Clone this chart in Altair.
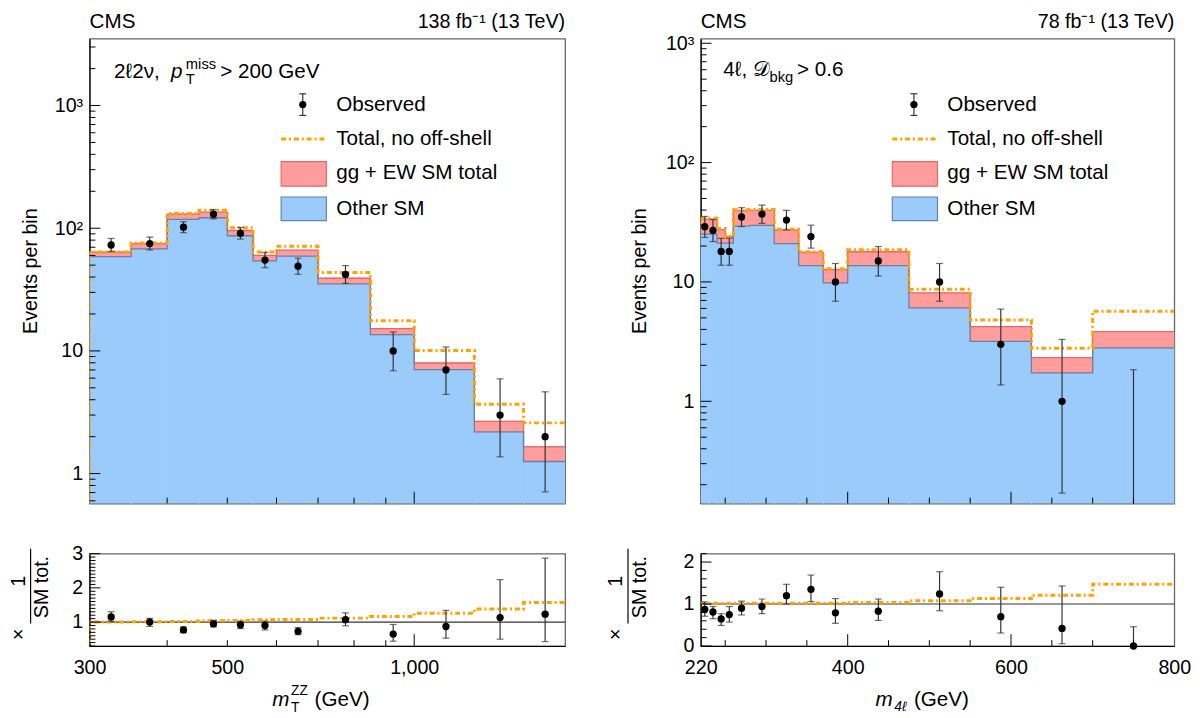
import altair as alt
import pandas as pd
import numpy as np

# ---------------- left panel: 2l2nu, pT miss > 200 GeV ----------------
L_EDGES = [300, 350, 400, 450, 500, 550, 600, 700, 850, 1000, 1250, 1500, 1750]
L_OTHER = [58.6, 67.9, 118.0, 121.7, 86.8, 54.1, 59.3, 35.2, 13.6, 7.05, 2.19, 1.255]
L_SMTOT = [63.9, 74.8, 130.0, 135.0, 95.8, 60.0, 66.2, 39.1, 15.2, 7.97, 2.67, 1.654]
L_NOOFF = [64.0, 75.9, 132.0, 140.0, 101.0, 63.9, 71.3, 43.6, 17.6, 10.06, 3.68, 2.59]
L_OBS = [73, 75, 102, 130, 91, 55, 49, 42, 10, 7, 3, 2]
L_OBS_LO = [64.6, 66.5, 92.0, 119.1, 81.5, 47.7, 42.1, 35.5, 6.89, 4.42, 1.37, 0.71]
L_OBS_HI = [82.5, 84.7, 113.1, 141.9, 101.5, 63.4, 57.0, 49.6, 14.27, 10.77, 5.92, 4.64]
L_RATIO = [1.15, 1.00, 0.77, 0.95, 0.92, 0.90, 0.73, 1.07, 0.65, 0.87, 1.13, 1.23]
L_RATIO_LO = [1.02, 0.87, 0.69, 0.86, 0.81, 0.77, 0.63, 0.89, 0.44, 0.53, 0.50, 0.43]
L_RATIO_HI = [1.30, 1.11, 0.86, 1.05, 1.03, 1.03, 0.84, 1.27, 0.93, 1.34, 2.24, 2.87]
L_RATIO_NOOFF = [1.00, 1.01, 1.015, 1.037, 1.05, 1.065, 1.077, 1.115, 1.16, 1.26, 1.38, 1.57]

# ---------------- right panel: 4l, Dbkg > 0.6 ----------------
R_EDGES = [220, 230, 240, 250, 260, 280, 310, 340, 370, 400, 475, 550, 625, 700, 800]
R_OTHER = [25.1, 25.1, 21.1, 21.1, 29.4, 29.8, 20.9, 13.7, 9.8, 13.7, 6.05, 3.18, 1.73, 2.80]
R_SMTOT = [33.6, 33.6, 27.4, 24.0, 39.5, 39.8, 27.2, 17.7, 12.7, 17.9, 8.09, 4.22, 2.32, 3.84]
R_NOOFF = [34.2, 34.2, 28.1, 24.2, 40.3, 40.5, 27.7, 17.9, 12.9, 18.6, 8.67, 4.79, 2.78, 5.69]
R_OBS = [29, 27, 18, 18, 35, 37, 33, 24, 10, 15, 10, 3, 1, 0]
R_OBS_LO = [23.6, 21.8, 13.8, 13.8, 29.1, 31.0, 27.3, 19.2, 6.89, 11.2, 6.89, 1.37, 0.17, 0.0]
R_OBS_HI = [35.4, 33.3, 23.2, 23.2, 41.9, 44.0, 39.8, 29.9, 14.27, 19.8, 14.27, 5.92, 3.30, 1.84]
R_RATIO = [0.87, 0.81, 0.645, 0.75, 0.90, 0.94, 1.20, 1.35, 0.79, 0.83, 1.24, 0.70, 0.42, 0.0]
R_RATIO_LO = [0.71, 0.65, 0.49, 0.57, 0.74, 0.77, 1.00, 1.06, 0.54, 0.61, 0.84, 0.31, 0.055, 0.0]
R_RATIO_HI = [1.05, 0.94, 0.77, 0.94, 1.07, 1.12, 1.47, 1.69, 1.13, 1.12, 1.77, 1.40, 1.43, 0.46]
R_RATIO_NOOFF = [1.02, 1.02, 1.02, 1.02, 1.02, 1.02, 1.02, 1.02, 1.02, 1.04, 1.08, 1.13, 1.21, 1.47]

# axis tick positions (data units)
L_XTICK_MAJ = [1000]
L_XTICK_MIN = [400, 500, 600, 700, 800, 900]
R_XTICK_MAJ = [400, 600]
R_XTICK_MIN = [250, 300, 350, 450, 500, 550, 650, 700, 750]

FONT = "Liberation Sans"
FS = 20
LFS = 21
BLUE_FILL = "#9ACBFA"
BLUE_LINE = "#6483A8"
RED_FILL = "#FF9C9C"
RED_LINE = "#E26A6A"
ORANGE = "#FFA200"
DASH = [5, 3, 2, 3]
ONE = pd.DataFrame({"k": [0]})

W_L, W_R, H_TOP, H_RAT = 484, 482, 473, 94


def txt(s, x, y, size=FS, align="left", baseline="alphabetic", angle=None, style="normal"):
    kw = dict(text=s, font=FONT, fontSize=size, align=align, baseline=baseline,
              color="black", fontStyle=style)
    if angle is not None:
        kw["angle"] = angle
    return alt.Chart(ONE).mark_text(**kw).encode(x=alt.value(x), y=alt.value(y))


def step_frame(edges, vals, lead=None):
    xs = list(edges)
    ys = list(vals) + [vals[-1]]
    if lead is not None:
        xs = [edges[0]] + xs
        ys = [lead] + ys
    return pd.DataFrame({"x": xs, "y": ys, "i": list(range(len(xs)))})


def tick_layers(X, Y, H, xmaj, xmin, ymaj, ymin):
    out = []
    for vals, ln in ((xmaj, 12), (xmin, 6)):
        if vals:
            out.append(alt.Chart(pd.DataFrame({"v": vals})).mark_rule(color="black", strokeWidth=1)
                       .encode(x=X("v"), y=alt.value(H), y2=alt.value(H - ln)))
    for vals, ln in ((ymaj, 11), (ymin, 6)):
        if vals:
            out.append(alt.Chart(pd.DataFrame({"v": vals})).mark_rule(color="black", strokeWidth=1)
                       .encode(y=Y("v"), x=alt.value(0), x2=alt.value(ln)))
    return out


def legend_layers():
    return [
        alt.Chart(ONE).mark_rule(color="#333", strokeWidth=1.2).encode(
            x=alt.value(217), y=alt.value(56), y2=alt.value(78)),
        alt.Chart(ONE).mark_rule(color="#333", strokeWidth=1.2).encode(
            x=alt.value(213.5), x2=alt.value(220.5), y=alt.value(56)),
        alt.Chart(ONE).mark_rule(color="#333", strokeWidth=1.2).encode(
            x=alt.value(213.5), x2=alt.value(220.5), y=alt.value(78)),
        alt.Chart(ONE).mark_point(filled=True, shape="circle", size=55, color="black", opacity=1).encode(
            x=alt.value(217), y=alt.value(67)),
        alt.Chart(ONE).mark_rule(color=ORANGE, strokeWidth=3, strokeDash=DASH).encode(
            x=alt.value(195), x2=alt.value(241), y=alt.value(102)),
        alt.Chart(ONE).mark_rect(fill=RED_FILL, stroke=RED_LINE, strokeWidth=1.2).encode(
            x=alt.value(195), x2=alt.value(241), y=alt.value(125), y2=alt.value(150)),
        alt.Chart(ONE).mark_rect(fill=BLUE_FILL, stroke=BLUE_LINE, strokeWidth=1.2).encode(
            x=alt.value(195), x2=alt.value(241), y=alt.value(161), y2=alt.value(185)),
        txt("Observed", 251, 67, size=LFS, baseline="middle"),
        txt("Total, no off-shell", 251, 102, size=LFS, baseline="middle"),
        txt("gg + EW SM total", 251, 137, size=LFS, baseline="middle"),
        txt("Other SM", 251, 173, size=LFS, baseline="middle"),
    ]


def top_panel(edges, other, smtot, nooff, obs, olo, ohi, xtype, xdom, ydom, W,
              xmaj, xmin, lead, extra):
    H = H_TOP
    xs = alt.Scale(type=xtype, domain=xdom, nice=False, zero=False)
    ys = alt.Scale(type="log", domain=ydom, nice=False)
    yax = alt.Axis(values=[1, 10, 100, 1000],
                   labelExpr="datum.value == 1 ? '1' : datum.value == 10 ? '10' : datum.value == 100 ? '10²' : '10³'",
                   ticks=False, domain=True, domainColor="black", domainWidth=1.2,
                   labelFont=FONT, labelFontSize=FS, labelColor="black", labelPadding=7,
                   grid=False, title=None)
    X = lambda f: alt.X(f, type="quantitative", scale=xs, axis=None)
    Y = lambda f: alt.Y(f, type="quantitative", scale=ys, axis=yax)

    e = np.array(edges, dtype=float)
    hist = pd.DataFrame({"lo": e[:-1], "hi": e[1:], "other": other, "smtot": smtot,
                         "floor": ydom[0] * 0.5})
    olo_a = np.array(olo, dtype=float)
    od = pd.DataFrame({"c": (e[:-1] + e[1:]) / 2, "obs": obs, "olo": olo_a,
                       "elo": np.where(olo_a > 0, olo_a, ydom[0] * 0.5), "ehi": ohi})

    layers = [
        alt.Chart(hist).mark_rect(fill=BLUE_FILL, stroke=BLUE_FILL, strokeWidth=1, clip=True).encode(
            x=X("lo"), x2="hi", y=Y("other"), y2="floor"),
        alt.Chart(hist).mark_rect(fill=RED_FILL, stroke=RED_FILL, strokeWidth=0.8, clip=True).encode(
            x=X("lo"), x2="hi", y=Y("smtot"), y2="other"),
        alt.Chart(step_frame(edges, smtot)).mark_line(
            interpolate="step-after", color=RED_LINE, strokeWidth=1.3, clip=True).encode(
            x=X("x"), y=Y("y"), order="i:Q"),
        alt.Chart(step_frame(edges, other)).mark_line(
            interpolate="step-after", color=BLUE_LINE, strokeWidth=1.3, clip=True).encode(
            x=X("x"), y=Y("y"), order="i:Q"),
        alt.Chart(step_frame(edges, nooff, lead)).mark_line(
            interpolate="step-after", color=ORANGE, strokeWidth=3, strokeDash=DASH, clip=True).encode(
            x=X("x"), y=Y("y"), order="i:Q"),
        alt.Chart(od).mark_rule(color="#333", strokeWidth=1.2, clip=True).encode(
            x=X("c"), y=Y("elo"), y2="ehi"),
        alt.Chart(od).mark_tick(orient="horizontal", size=7, thickness=1.2, color="#333").encode(
            x=X("c"), y=Y("ehi")),
        alt.Chart(od).transform_filter("datum.olo > 0").mark_tick(
            orient="horizontal", size=7, thickness=1.2, color="#333").encode(
            x=X("c"), y=Y("olo")),
        alt.Chart(od).transform_filter("datum.obs > 0").mark_point(
            filled=True, shape="circle", size=55, color="black", opacity=1).encode(
            x=X("c"), y=Y("obs")),
    ]
    ymaj = [v for v in [1, 10, 100, 1000] if ydom[0] <= v <= ydom[1]]
    ymin = [m * 10.0 ** p for p in range(-1, 4) for m in range(2, 10)
            if ydom[0] <= m * 10.0 ** p <= ydom[1]]
    layers += tick_layers(X, Y, H, xmaj, xmin, ymaj, ymin)
    layers += legend_layers()
    layers += extra
    return alt.layer(*layers).properties(width=W, height=H)


def ratio_panel(edges, r, rlo, rhi, rnooff, xtype, xdom, ydom, W, xlabels,
                xmaj, xmin, ymaj, ystep, lead, extra):
    H = H_RAT
    xs = alt.Scale(type=xtype, domain=xdom, nice=False, zero=False)
    ys = alt.Scale(type="linear", domain=ydom, nice=False, zero=False)
    xax = alt.Axis(values=xlabels, format=",d", ticks=False, domain=True, domainColor="black",
                   domainWidth=1.2, labelFont=FONT, labelFontSize=FS, labelColor="black",
                   labelPadding=12, labelFlush=False, grid=False, title=None)
    yax = alt.Axis(values=ymaj, format="d", ticks=False, domain=True, domainColor="black",
                   domainWidth=1.2, labelFont=FONT, labelFontSize=FS, labelColor="black",
                   labelPadding=7, grid=False, title=None)
    X = lambda f: alt.X(f, type="quantitative", scale=xs, axis=xax)
    Y = lambda f: alt.Y(f, type="quantitative", scale=ys, axis=yax)
    e = np.array(edges, dtype=float)
    rd = pd.DataFrame({"c": (e[:-1] + e[1:]) / 2, "r": r, "lo": rlo, "hi": rhi})
    layers = [
        alt.Chart(ONE).mark_rule(color="#333", strokeWidth=1.2).encode(y=alt.datum(1)),
        alt.Chart(step_frame(edges, rnooff, lead)).mark_line(
            interpolate="step-after", color=ORANGE, strokeWidth=3, strokeDash=DASH, clip=True).encode(
            x=X("x"), y=Y("y"), order="i:Q"),
        alt.Chart(rd).mark_rule(color="#333", strokeWidth=1.2).encode(
            x=X("c"), y=Y("lo"), y2="hi"),
        alt.Chart(rd).mark_tick(orient="horizontal", size=7, thickness=1.2, color="#333").encode(
            x=X("c"), y=Y("hi")),
        alt.Chart(rd).transform_filter("datum.lo > 0").mark_tick(
            orient="horizontal", size=7, thickness=1.2, color="#333").encode(
            x=X("c"), y=Y("lo")),
        alt.Chart(rd).mark_point(filled=True, shape="circle", size=55, color="black", opacity=1).encode(
            x=X("c"), y=Y("r")),
    ]
    n0 = int(round(ydom[0] / ystep))
    n1 = int(round(ydom[1] / ystep))
    ymin = [round(k * ystep, 3) for k in range(n0, n1 + 1) if abs(k * ystep - round(k * ystep)) > 1e-6]
    layers += tick_layers(X, Y, H, xmaj, xmin, ymaj, ymin)
    layers += extra
    return alt.layer(*layers).properties(width=W, height=H)


left_top = top_panel(
    L_EDGES, L_OTHER, L_SMTOT, L_NOOFF, L_OBS, L_OBS_LO, L_OBS_HI, "log", [300, 1750], [0.57, 3500], W_L,
    L_XTICK_MAJ, L_XTICK_MIN, 0.3,
    [txt("CMS", 0, -11, size=21),
     txt("138 fb⁻¹ (13 TeV)", W_L, -11, size=20, align="right"),
     txt("2ℓ2ν,", 25, 40, size=21),
     txt("p", 83, 40, size=21, style="italic"),
     txt("miss", 98, 31, size=15),
     txt("T", 98, 46, size=15),
     txt("> 200 GeV", 133, 40, size=21),
     txt("Events per bin", -59, H_TOP / 2, angle=270, align="center", baseline="middle")])

right_top = top_panel(
    R_EDGES, R_OTHER, R_SMTOT, R_NOOFF, R_OBS, R_OBS_LO, R_OBS_HI, "linear", [220, 800], [0.139, 1090], W_R,
    R_XTICK_MAJ, R_XTICK_MIN, None,
    [txt("CMS", 0, -11, size=21),
     txt("78 fb⁻¹ (13 TeV)", W_R, -11, size=20, align="right"),
     txt("4ℓ, 𝒟", 23, 38, size=21),
     txt("bkg", 70, 44, size=15),
     txt("> 0.6", 98, 38, size=21),
     txt("Events per bin", -62, H_TOP / 2, angle=270, align="center", baseline="middle")])


def ratio_title(dx):
    return [
        txt("1", dx, 28, angle=270, align="center", baseline="middle"),
        alt.Chart(ONE).mark_rule(color="black", strokeWidth=1.2).encode(
            x=alt.value(dx + 12), y=alt.value(-5), y2=alt.value(71)),
        txt("SM tot.", dx + 24, 34, angle=270, align="center", baseline="middle"),
        txt("×", dx, 82, angle=270, align="center", baseline="middle"),
    ]


left_ratio = ratio_panel(
    L_EDGES, L_RATIO, L_RATIO_LO, L_RATIO_HI, L_RATIO_NOOFF, "log", [300, 1750], [0.3, 3.0], W_L,
    [300, 500, 1000], L_XTICK_MAJ, L_XTICK_MIN, [1, 2, 3], 0.1, 0.0,
    ratio_title(-72) + [
        txt("m", 186, 155, size=21, style="italic"),
        txt("ZZ", 205, 144, size=14),
        txt("T", 205, 161, size=14),
        txt("(GeV)", 229, 155, size=21)])

right_ratio = ratio_panel(
    R_EDGES, R_RATIO, R_RATIO_LO, R_RATIO_HI, R_RATIO_NOOFF, "linear", [220, 800], [0.0, 2.2], W_R,
    [220, 400, 600, 800], R_XTICK_MAJ, R_XTICK_MIN, [0, 1, 2], 0.2, None,
    ratio_title(-86) + [
        txt("m", 178, 155, size=21, style="italic"),
        txt("4ℓ", 197, 160, size=14, style="italic"),
        txt("(GeV)", 217, 155, size=21)])

chart = (alt.concat(left_top, right_top, left_ratio, right_ratio, columns=2,
                    spacing={"row": 51, "column": 138}, bounds="flush")
         .properties(padding={"left": 0, "top": -4, "right": 0, "bottom": 0})
         .configure(font=FONT)
         .configure_view(stroke="#666", strokeWidth=1.3))

chart.save("out.html", embed_options={"renderer": "svg", "actions": False})
